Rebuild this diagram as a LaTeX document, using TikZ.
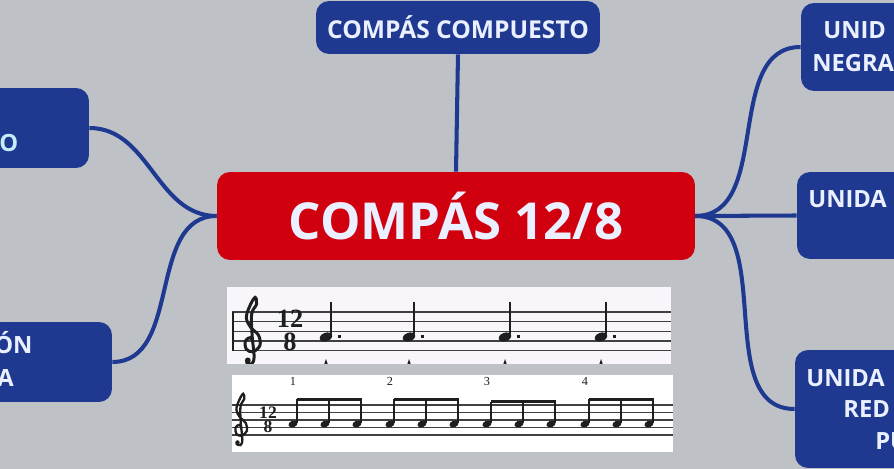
\documentclass[tikz,border=0pt]{standalone}
\usepackage{fontspec}
\setmainfont{Open Sans}
\newfontfamily\partitura{Liberation Serif}
\usetikzlibrary{calc}
\definecolor{fondo}{RGB}{190,194,198}
\definecolor{azul}{RGB}{31,57,145}
\definecolor{rojo}{RGB}{208,0,14}
\definecolor{letra}{RGB}{234,240,255}
\definecolor{celeste}{RGB}{196,236,250}
\definecolor{papel}{RGB}{248,246,250}
\definecolor{tinta}{RGB}{30,30,30}
\tikzset{
 caja/.style={fill=azul, rounded corners=0.26cm, inner sep=0},
 rama/.style={draw=azul, line width=2.3pt},
 titulo/.style={text=letra, font=\bfseries\fontsize{14}{18}\selectfont},
 frag/.style={text=letra, font=\bfseries\fontsize{13.5}{18}\selectfont, anchor=base west, inner sep=0},
 linea/.style={draw=tinta!85, line width=0.7pt},
}
\newcommand{\clave}[4]{%
 \begin{scope}[shift={(#1,#2)}, x=#3, y=#3]
 \draw[tinta, line width=#4, line cap=round] plot[smooth, tension=0.6] coordinates {(1.15,0.95) (0.85,1.35) (0.35,1.0) (0.45,0.15) (1.15,-0.1) (1.85,0.55) (1.7,1.6) (0.9,2.4) (0.45,3.4) (0.8,4.6) (1.35,5.5) (1.5,4.8) (1.0,3.8) (1.05,1.5) (1.25,-0.6) (1.0,-1.35) (0.45,-1.2)};
 \fill[tinta] (0.6,-1.0) circle (0.3);
 \end{scope}}

\begin{document}
\begin{tikzpicture}[x=0.02cm, y=-0.02cm]
\useasboundingbox (0,0) rectangle (894,469);
\clip (0,0) rectangle (894,469);
\fill[fondo] (0,0) rectangle (894,469);

\node[caja, fill=rojo, minimum width=9.56cm, minimum height=1.76cm, text=letra, font=\bfseries\fontsize{29}{34}\selectfont] (cen) at (456,216) {COMPÁS 12/8};
\node[caja, titulo, minimum width=5.68cm, minimum height=1.06cm] (sup) at (458,27.5) {COMPÁS COMPUESTO};
\node[caja, minimum width=4.18cm, minimum height=1.6cm] (izqa) at (-15.5,128) {};
\node[caja, minimum width=4.44cm, minimum height=1.6cm] (izqb) at (1,362) {};
\node[caja, minimum width=4.18cm, minimum height=1.76cm] (dera) at (905.5,47) {};
\node[caja, minimum width=4.26cm, minimum height=1.74cm] (derm) at (903.5,215.5) {};
\node[caja, minimum width=4.3cm, minimum height=2.36cm] (derb) at (902.5,409) {};

\draw[rama] (sup.south) -- (cen.north);
\draw[rama] (izqa.east) to[out=0, in=180] (cen.west);
\draw[rama] (izqb.east) to[out=0, in=180] (cen.west);
\draw[rama] (cen.east) to[out=0, in=180] (dera.west);
\draw[rama] (cen.east) -- (derm.west);
\draw[rama] (cen.east) to[out=0, in=180] (derb.west);

\node[frag, text=celeste] (ta) at (-1,152) {O};
\node[frag] (tb1) at (-6,354) {ÓN};
\node[frag] (tb2) at (-3,387) {A};
\node[frag] (tc1) at (823,39) {UNID};
\node[frag] (tc2) at (812,72) {NEGRA};
\node[frag] (td) at (808,208) {UNIDA};
\node[frag] (te1) at (806,387) {UNIDA};
\node[frag] (te2) at (843,418) {RED};
\node[frag] (te3) at (875,450) {PU};

\begin{scope}
\clip (227,287) rectangle (671,364);
\fill[papel] (227,287) rectangle (671,364);
\foreach \y in {312,321.7,331.3,341,350.7}
 \draw[linea] (232,\y) -- (671,\y);
\draw[tinta, line width=1.6pt] (233,312) -- (233,350.7);
\clave{242}{350.7}{0.194cm}{1.7pt}
\node[tinta, font=\partitura\bfseries\fontsize{15}{15}\selectfont, inner sep=0] (ts1a) at (290,319) {12};
\node[tinta, font=\partitura\bfseries\fontsize{15}{15}\selectfont, inner sep=0] (ts1b) at (290,342) {8};
\foreach \x in {326,409,505,601} {
 \fill[tinta, rotate around={20:(\x,337)}] (\x,337) ellipse (0.13cm and 0.085cm);
 \draw[tinta, line width=1.1pt] (\x+5,336) -- (\x+5,302);
 \fill[tinta] (\x+12,335.5) rectangle (\x+15,338.5);
 \fill[tinta] (\x-2,365) -- (\x,359) -- (\x+2,365) -- cycle;
}
\end{scope}

\begin{scope}
\clip (232,375) rectangle (673,452);
\fill[white] (232,375) rectangle (673,452);
\foreach \y in {405,412.5,420,427.5,435}
 \draw[linea, line width=0.6pt] (232,\y) -- (673,\y);
\clave{233}{435}{0.15cm}{1.3pt}
\node[tinta, font=\partitura\bfseries\fontsize{10}{10}\selectfont, inner sep=0] (ts2a) at (268,412.5) {12};
\node[tinta, font=\partitura\bfseries\fontsize{10}{10}\selectfont, inner sep=0] (ts2b) at (268,427) {8};
\foreach \x/\n/\b in {293/1/399.5,390/2/399.5,487/3/402,585/4/399.5} {
 \node[tinta, font=\partitura\fontsize{7}{7}\selectfont, inner sep=0] at (\x,381) {\n};
 \foreach \d in {0,32,64} {
  \fill[tinta, rotate around={20:(\x+\d,424)}] (\x+\d,424) ellipse (0.095cm and 0.065cm);
  \draw[tinta, line width=0.7pt] (\x+\d+4,423) -- (\x+\d+4,\b);
 }
 \fill[tinta] (\x+3.5,\b-1.5) rectangle (\x+68.5,\b+1.5);
}
\end{scope}
\end{tikzpicture}
\end{document}
